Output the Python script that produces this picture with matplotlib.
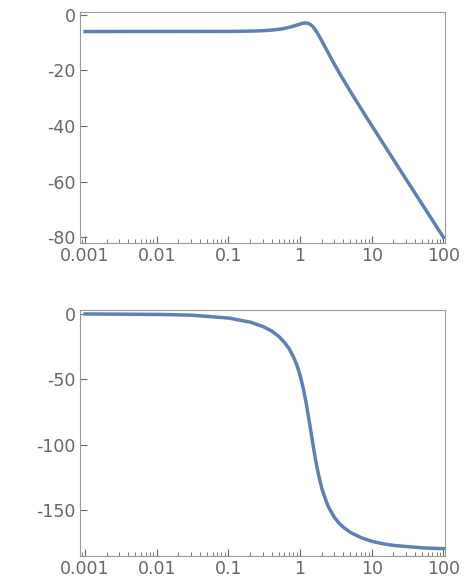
import numpy as np
import matplotlib.pyplot as plt

plt.rcParams['axes.unicode_minus'] = False

# frequency samples
freq = [0.001, 0.01, 0.03, 0.1, 0.2, 0.3, 0.4, 0.5, 0.6, 0.7, 0.8, 0.9, 1.0, 1.1, 1.2,
        1.3, 1.4, 1.5, 1.6, 1.7, 1.85, 2.0, 2.25, 2.5, 3.0, 3.5, 4.0, 5.0, 7.0, 10.0,
        15.0, 20.0, 50.0, 100.0]
mag_db = [-6.02, -6.02, -6.02, -5.99, -5.90, -5.74, -5.52, -5.25, -4.92, -4.54, -4.12,
          -3.70, -3.31, -3.03, -2.93, -3.08, -3.51, -4.21, -5.10, -6.13, -7.70, -9.33,
          -11.8, -14.02, -17.73, -20.8, -23.31, -27.46, -33.55, -39.88, -46.9, -52.01,
          -67.95, -80.0]
phase_deg = [0.0, -0.3, -0.9, -3.1, -6.2, -9.5, -13.0, -17.0, -21.5, -26.4, -32.3,
             -39.0, -46.9, -56.1, -66.4, -77.4, -88.5, -98.9, -108.0, -116.1, -125.5,
             -133.1, -141.5, -147.8, -155.4, -160.0, -163.0, -166.9, -170.9, -173.8,
             -175.9, -176.9, -178.8, -179.4]

line_col = '#5E81B5'
gray = '#666666'

fig = plt.figure(figsize=(4.74, 5.79), dpi=100)
ax1 = fig.add_axes([80/474, 1-243/579, 365/474, 231/579])
ax2 = fig.add_axes([80/474, 1-556/579, 365/474, 246/579])

def style(ax):
    ax.set_xscale('log')
    ax.set_xlim(0.00085, 105)
    for s in ax.spines.values():
        s.set_color('#999999')
    ax.tick_params(direction='in', colors=gray, labelsize=12.5, which='both', pad=3)
    ax.tick_params(which='major', length=5)
    ax.tick_params(which='minor', length=3)
    ax.set_xticks([0.001, 0.01, 0.1, 1, 10, 100])
    ax.set_xticklabels(['0.001', '0.01', '0.1', '1', '10', '100'])

# smooth through the read points in log-frequency
lf = np.log10(freq)
fine = np.linspace(lf[0], lf[-1], 800)
ax1.plot(10**fine, np.interp(fine, lf, mag_db), color=line_col, lw=2.5)
ax2.plot(10**fine, np.interp(fine, lf, phase_deg), color=line_col, lw=2.5)

style(ax1)
ax1.set_ylim(-82, 1)
ax1.set_yticks([0, -20, -40, -60, -80])
style(ax2)
ax2.set_ylim(-185, 3)
ax2.set_yticks([0, -50, -100, -150])

fig.savefig('out.png', dpi=100, facecolor='w')
